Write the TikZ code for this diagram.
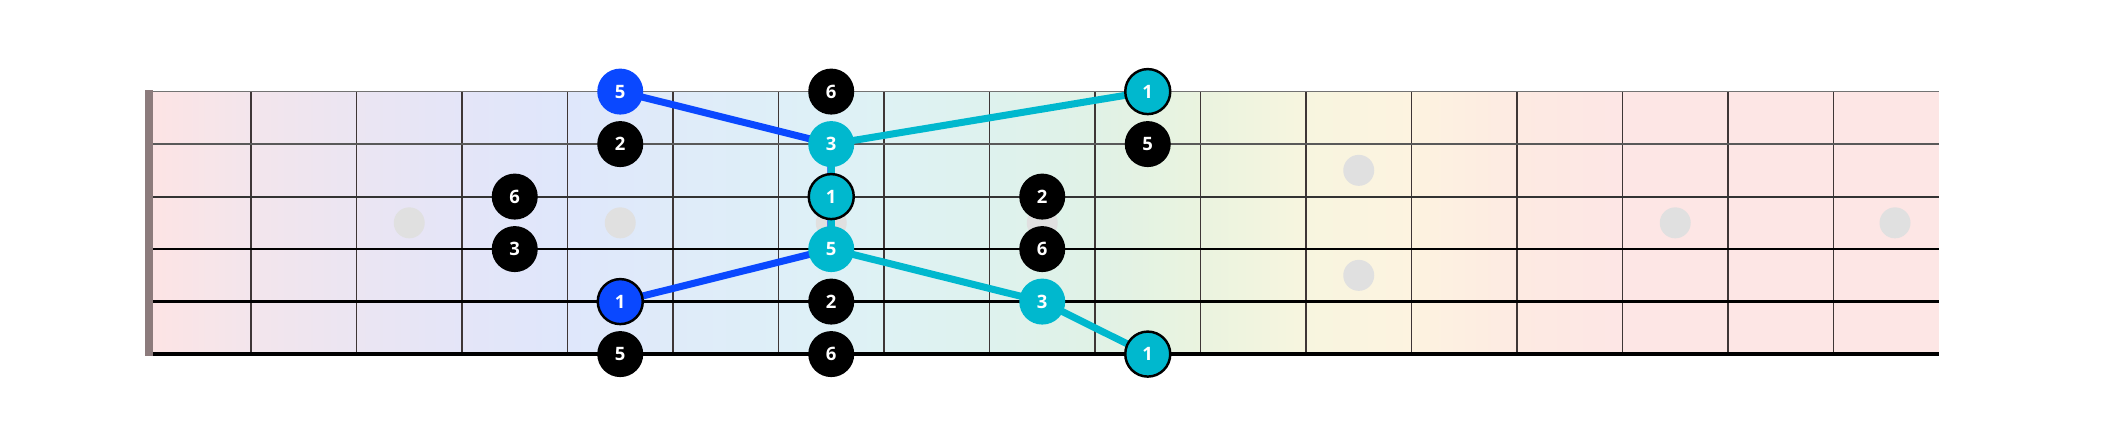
\documentclass[tikz,border=0pt]{standalone}
\usepackage{fontspec}
\newfontfamily\notefont{Open Sans}
\usepackage{tikz}
\pgfdeclarelayer{board}
\pgfdeclarelayer{lines}
\pgfsetlayers{board,lines,main}
\definecolor{bluenote}{HTML}{0A48FF}
\definecolor{cyannote}{HTML}{00B8CE}
\definecolor{nutgray}{HTML}{8C7B7C}
\definecolor{inlay}{HTML}{E0E0E0}
\definecolor{fretline}{HTML}{3E3636}
\definecolor{bgA}{HTML}{FDE4E4}
\definecolor{bgB}{HTML}{F3E5EC}
\definecolor{bgC}{HTML}{EBE5F2}
\definecolor{bgD}{HTML}{E4E5F8}
\definecolor{bgE}{HTML}{DFE7FB}
\definecolor{bgF}{HTML}{DFEBF9}
\definecolor{bgG}{HTML}{DEEFF8}
\definecolor{bgH}{HTML}{DEF2F4}
\definecolor{bgI}{HTML}{DEF2EE}
\definecolor{bgJ}{HTML}{E0F2E6}
\definecolor{bgK}{HTML}{EAF3DF}
\definecolor{bgL}{HTML}{F7F5DF}
\definecolor{bgM}{HTML}{FDF3E0}
\definecolor{bgN}{HTML}{FDEAE2}
\definecolor{bgO}{HTML}{FDE6E5}

\begin{document}
\begin{tikzpicture}[scale=0.2]
\tikzstyle{every node}+=[inner sep=0pt]
\tikzstyle{note}=[circle, fill=black, minimum size=0.92cm, text=white, font=\notefont\bfseries\fontsize{10.5}{12}\selectfont]
\tikzstyle{bluedeg}=[note, fill=bluenote]
\tikzstyle{cyandeg}=[note, fill=cyannote]
\tikzstyle{root}=[draw=black, line width=1.4pt, minimum size=0.9cm]
\tikzstyle{blueline}=[draw=bluenote, line width=4pt]
\tikzstyle{cyanline}=[draw=cyannote, line width=4pt]
\tikzstyle{fret}=[draw=fretline, line width=0.8pt]
\useasboundingbox (0,0) rectangle (211.2,-44.4);
\begin{pgfonlayer}{board}
% fretboard colours
\shade [left color=bgA, right color=bgB] (14.55,-9.16) rectangle (25.10,-35.41);
\shade [left color=bgB, right color=bgC] (25.10,-9.16) rectangle (35.65,-35.41);
\shade [left color=bgC, right color=bgD] (35.65,-9.16) rectangle (46.20,-35.41);
\shade [left color=bgD, right color=bgE] (46.20,-9.16) rectangle (56.75,-35.41);
\shade [left color=bgE, right color=bgF] (56.75,-9.16) rectangle (67.30,-35.41);
\shade [left color=bgF, right color=bgG] (67.30,-9.16) rectangle (77.85,-35.41);
\shade [left color=bgG, right color=bgH] (77.85,-9.16) rectangle (88.40,-35.41);
\shade [left color=bgH, right color=bgI] (88.40,-9.16) rectangle (98.95,-35.41);
\shade [left color=bgI, right color=bgJ] (98.95,-9.16) rectangle (109.50,-35.41);
\shade [left color=bgJ, right color=bgK] (109.50,-9.16) rectangle (120.05,-35.41);
\shade [left color=bgK, right color=bgL] (120.05,-9.16) rectangle (130.60,-35.41);
\shade [left color=bgL, right color=bgM] (130.60,-9.16) rectangle (141.15,-35.41);
\shade [left color=bgM, right color=bgN] (141.15,-9.16) rectangle (151.70,-35.41);
\shade [left color=bgN, right color=bgO] (151.70,-9.16) rectangle (162.25,-35.41);
\fill [bgO] (162.25,-9.16) rectangle (193.90,-35.41);
% inlays
\fill [inlay] (40.925,-22.285) circle (1.55);
\fill [inlay] (62.025,-22.285) circle (1.55);
\fill [inlay] (83.125,-22.285) circle (1.55);
\fill [inlay] (104.225,-22.285) circle (1.55);
\fill [inlay] (135.875,-17.035) circle (1.55);
\fill [inlay] (135.875,-27.535) circle (1.55);
\fill [inlay] (167.525,-22.285) circle (1.55);
\fill [inlay] (189.5,-22.285) circle (1.55);
% frets
\draw [fret] (25.10,-9.16) -- (25.10,-35.41);
\draw [fret] (35.65,-9.16) -- (35.65,-35.41);
\draw [fret] (46.20,-9.16) -- (46.20,-35.41);
\draw [fret] (56.75,-9.16) -- (56.75,-35.41);
\draw [fret] (67.30,-9.16) -- (67.30,-35.41);
\draw [fret] (77.85,-9.16) -- (77.85,-35.41);
\draw [fret] (88.40,-9.16) -- (88.40,-35.41);
\draw [fret] (98.95,-9.16) -- (98.95,-35.41);
\draw [fret] (109.50,-9.16) -- (109.50,-35.41);
\draw [fret] (120.05,-9.16) -- (120.05,-35.41);
\draw [fret] (130.60,-9.16) -- (130.60,-35.41);
\draw [fret] (141.15,-9.16) -- (141.15,-35.41);
\draw [fret] (151.70,-9.16) -- (151.70,-35.41);
\draw [fret] (162.25,-9.16) -- (162.25,-35.41);
\draw [fret] (172.80,-9.16) -- (172.80,-35.41);
\draw [fret] (183.35,-9.16) -- (183.35,-35.41);
% strings
\draw [black!55, line width=1pt] (14.55,-9.16) -- (193.90,-9.16);
\draw [black!65, line width=1pt] (14.55,-14.41) -- (193.90,-14.41);
\draw [black!80, line width=1.05pt] (14.55,-19.66) -- (193.90,-19.66);
\draw [black, line width=1.2pt] (14.55,-24.91) -- (193.90,-24.91);
\draw [black, line width=1.5pt] (14.55,-30.16) -- (193.90,-30.16);
\draw [black, line width=2.3pt] (14.55,-35.41) -- (193.90,-35.41);
\fill [nutgray] (14.50,-9.0) rectangle (15.27,-35.6);
\end{pgfonlayer}
% notes
\node [bluedeg] (s1f5) at (62.025,-9.16) {5};
\node [note] (s1f7) at (83.125,-9.16) {6};
\node [cyandeg, root] (s1f10) at (114.775,-9.16) {1};
\node [note] (s2f5) at (62.025,-14.41) {2};
\node [cyandeg] (s2f7) at (83.125,-14.41) {3};
\node [note] (s2f10) at (114.775,-14.41) {5};
\node [note] (s3f4) at (51.475,-19.66) {6};
\node [cyandeg, root] (s3f7) at (83.125,-19.66) {1};
\node [note] (s3f9) at (104.225,-19.66) {2};
\node [note] (s4f4) at (51.475,-24.91) {3};
\node [cyandeg] (s4f7) at (83.125,-24.91) {5};
\node [note] (s4f9) at (104.225,-24.91) {6};
\node [bluedeg, root] (s5f5) at (62.025,-30.16) {1};
\node [note] (s5f7) at (83.125,-30.16) {2};
\node [cyandeg] (s5f9) at (104.225,-30.16) {3};
\node [note] (s6f5) at (62.025,-35.41) {5};
\node [note] (s6f7) at (83.125,-35.41) {6};
\node [cyandeg, root] (s6f10) at (114.775,-35.41) {1};
\begin{pgfonlayer}{lines}
\draw [blueline] (s1f5.center) -- ([xshift=-1pt]s2f7.center) -- ([xshift=-1pt]s3f7.center) -- ([xshift=-1pt]s4f7.center) -- (s5f5.center);
\draw [cyanline] (s1f10.center) -- ([xshift=0.6pt]s2f7.center) -- ([xshift=0.6pt]s3f7.center) -- ([xshift=0.6pt]s4f7.center) -- (s5f9.center) -- (s6f10.center);
\end{pgfonlayer}
\end{tikzpicture}
\end{document}
